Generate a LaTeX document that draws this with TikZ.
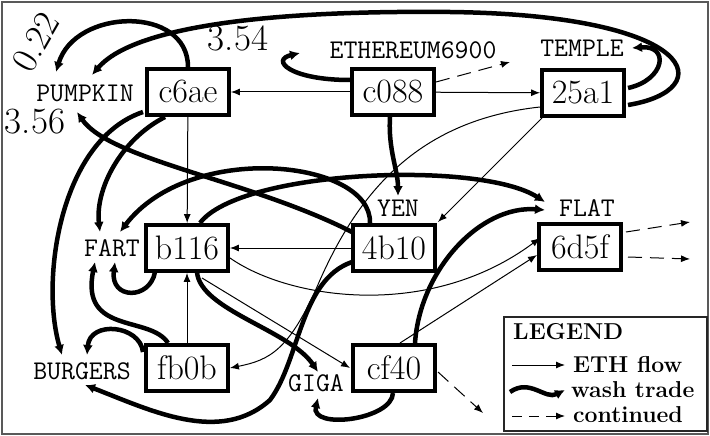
\documentclass[tikz,border=0pt]{standalone}
\usetikzlibrary{arrows.meta}
\begin{document}
\begin{tikzpicture}[x=1pt,y=-1pt,
  box/.style={draw,line width=3.8pt,font=\fontsize{34}{34}\selectfont,minimum width=82pt,minimum height=46pt,inner sep=2pt},
  lab/.style={font=\ttfamily\fontsize{27}{27}\selectfont,inner sep=1pt},
  num/.style={font=\fontsize{37}{37}\selectfont,inner sep=0pt},
  eth/.style={line width=1pt,-{Latex[length=9pt,width=7pt]}},
  wash/.style={line width=4.5pt,-{Latex[length=10pt,width=10pt]}},
  cont/.style={line width=1pt,dash pattern=on 14pt off 8pt,-{Latex[length=9pt,width=7pt]}},
  leg/.style={font=\bfseries\scshape\fontsize{23}{23}\selectfont,anchor=west,inner sep=0pt}]
\useasboundingbox (0,0) rectangle (710,436);
\draw[line width=2pt,gray!70!black] (2,2) rectangle (708,434);
\node[box] (c6ae) at (188,92) {c6ae};
\node[box] (c088) at (393,92) {c088};
\node[box] (a25) at (583,93) {25a1};
\node[box] (b116) at (187,248) {b116};
\node[box] (b410) at (394,248) {4b10};
\node[box] (d5f) at (580,247) {6d5f};
\node[box] (fb0b) at (187,368) {fb0b};
\node[box] (cf40) at (394,368) {cf40};
\node[lab] (pump) at (85,93) {PUMPKIN};
\node[lab] (eth) at (413,50) {ETHEREUM6900};
\node[lab] (temple) at (582,48) {TEMPLE};
\node[lab] (yen) at (398,208) {YEN};
\node[lab] (flat) at (587,208) {FLAT};
\node[lab] (fart) at (112,248) {FART};
\node[lab] (burg) at (82,371) {BURGERS};
\node[lab] (giga) at (316,383) {GIGA};
\node[num,rotate=60] (n022) at (36,42) {0.22};
\node[num] (n354) at (238,38) {3.54};
\node[num] (n356) at (35,122) {3.56};
\coordinate (dc088) at (510,62);
\coordinate (dcf40) at (483,413);
\coordinate (dd1) at (690,222);
\coordinate (dd2) at (690,259);
% wash trades
\draw[wash] (188,67) .. controls (188,5) and (75,8) .. (56,72);
\draw[wash] (628,105) .. controls (720,90) and (700,15) .. (450,12) .. controls (250,10) and (130,30) .. (92,75);
\draw[wash] (628,88) .. controls (665,80) and (670,45) .. (632,48);
\draw[wash] (350,80) .. controls (290,80) and (270,60) .. (300,53);
\draw[wash] (390,117) .. controls (388,150) and (398,170) .. (398,196);
\draw[wash] (352,232) .. controls (250,180) and (110,160) .. (77,112);
\draw[wash] (370,223) .. controls (372,160) and (190,140) .. (120,232);
\draw[wash] (165,117) .. controls (120,140) and (95,190) .. (100,232);
\draw[wash] (143,112) .. controls (60,140) and (40,280) .. (62,355);
\draw[wash] (200,223) .. controls (240,170) and (480,160) .. (545,202);
\draw[wash] (155,272) .. controls (150,300) and (110,300) .. (115,262);
\draw[wash] (168,343) .. controls (150,315) and (80,335) .. (95,262);
\draw[wash] (143,352) .. controls (140,325) and (90,320) .. (87,355);
\draw[wash] (197,272) .. controls (200,310) and (290,330) .. (318,372);
\draw[wash] (352,262) .. controls (300,280) and (300,360) .. (270,400) .. controls (220,445) and (150,410) .. (85,385);
\draw[wash] (415,343) .. controls (420,270) and (480,205) .. (545,210);
\draw[wash] (393,393) .. controls (392,420) and (310,430) .. (318,398);
% eth flow
\draw[eth] (c088) -- (c6ae);
\draw[eth] (c088) -- (a25);
\draw[eth] (c6ae) -- (b116);
\draw[eth] (542,118) -- (438,222);
\draw[eth] (540,107) .. controls (420,120) and (360,190) .. (320,280) .. controls (290,350) and (270,360) .. (fb0b.east);
\draw[eth] (b410) -- (b116);
\draw[eth] (230,258) .. controls (290,300) and (430,320) .. (540,238);
\draw[eth] (202,278) -- (350,368);
\draw[eth] (fb0b) -- (b116);
\draw[eth] (400,343) -- (537,255);
\draw[cont] (436,82) -- (dc088);
\draw[cont] (438,372) -- (dcf40);
\draw[cont] (626,232) -- (dd1);
\draw[cont] (628,257) -- (dd2);
% legend
\node[draw,line width=1.5pt,gray!30!black,minimum width=203pt,minimum height=114pt,anchor=north west] (legbox) at (503,316) {};
\node[leg] (lt) at (513,332) {LEGEND};
\coordinate (l1a) at (512,365); \coordinate (l1b) at (565,365);
\coordinate (l2a) at (510,392); \coordinate (l2b) at (565,390);
\coordinate (l3a) at (512,416); \coordinate (l3b) at (565,416);
\draw[eth] (l1a) -- (l1b);
\draw[wash] (l2a) .. controls (530,378) and (545,400) .. (l2b);
\draw[cont,dash pattern=on 10pt off 7pt] (l3a) -- (l3b);
\node[leg] (lt1) at (573,365) {ETH flow};
\node[leg] (lt2) at (571,390) {wash trade};
\node[leg] (lt3) at (573,415) {continued};
\end{tikzpicture}
\end{document}
